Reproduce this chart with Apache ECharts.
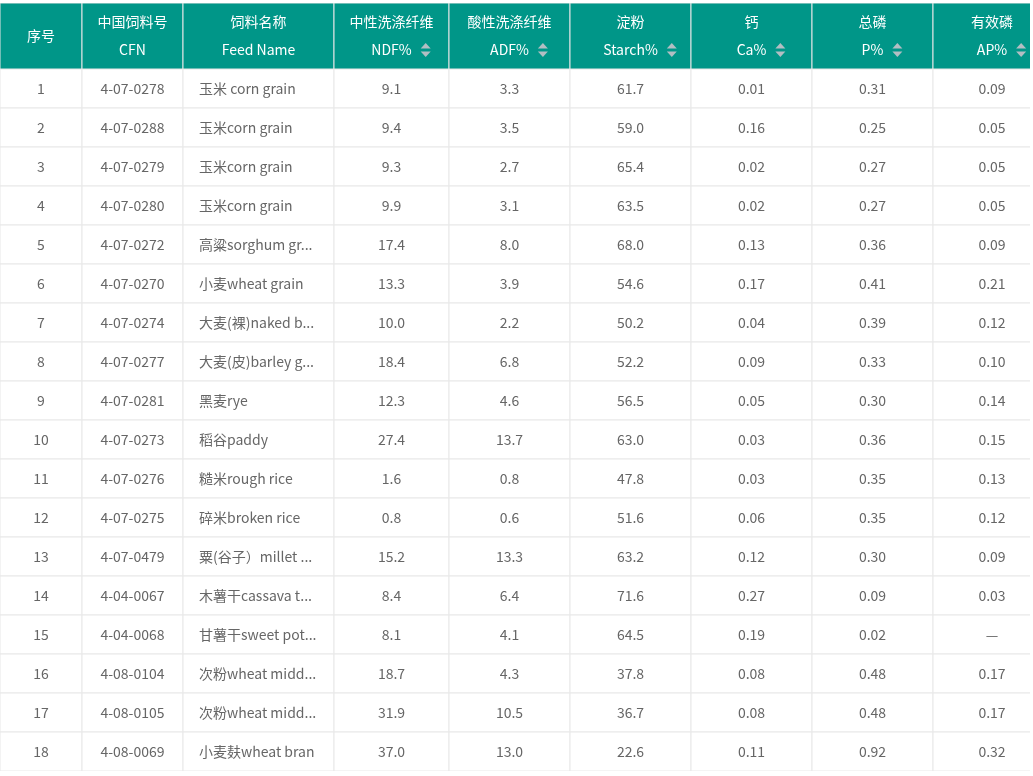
<!DOCTYPE html>
<html>
<head>
<meta charset="utf-8">
<script src="https://cdn.jsdelivr.net/npm/echarts@6/dist/echarts.min.js"></script>
<style>
  html, body { margin: 0; padding: 0; background: #fff; }
  #table { width: 1033px; height: 776px; }
</style>
</head>
<body>
<div id="table"></div>
<script>
// table data
const headersCn = ['序号', '中国饲料号', '饲料名称', '中性洗涤纤维', '酸性洗涤纤维', '淀粉', '钙', '总磷', '有效磷'];
const headersEn = ['', 'CFN', 'Feed Name', 'NDF%', 'ADF%', 'Starch%', 'Ca%', 'P%', 'AP%'];
const sortable = [false, false, false, true, true, true, true, true, true];
const cfn = ['4-07-0278', '4-07-0288', '4-07-0279', '4-07-0280', '4-07-0272', '4-07-0270', '4-07-0274', '4-07-0277', '4-07-0281',
  '4-07-0273', '4-07-0276', '4-07-0275', '4-07-0479', '4-04-0067', '4-04-0068', '4-08-0104', '4-08-0105', '4-08-0069'];
const feedName = ['玉米 corn grain', '玉米corn grain', '玉米corn grain', '玉米corn grain', '高粱sorghum grain', '小麦wheat grain',
  '大麦(裸)naked barley', '大麦(皮)barley grain', '黑麦rye', '稻谷paddy', '糙米rough rice', '碎米broken rice',
  '粟(谷子）millet grain', '木薯干cassava tuber', '甘薯干sweet potato', '次粉wheat middling', '次粉wheat middling', '小麦麸wheat bran'];
const ndf = ['9.1', '9.4', '9.3', '9.9', '17.4', '13.3', '10.0', '18.4', '12.3', '27.4', '1.6', '0.8', '15.2', '8.4', '8.1', '18.7', '31.9', '37.0'];
const adf = ['3.3', '3.5', '2.7', '3.1', '8.0', '3.9', '2.2', '6.8', '4.6', '13.7', '0.8', '0.6', '13.3', '6.4', '4.1', '4.3', '10.5', '13.0'];
const starch = ['61.7', '59.0', '65.4', '63.5', '68.0', '54.6', '50.2', '52.2', '56.5', '63.0', '47.8', '51.6', '63.2', '71.6', '64.5', '37.8', '36.7', '22.6'];
const ca = ['0.01', '0.16', '0.02', '0.02', '0.13', '0.17', '0.04', '0.09', '0.05', '0.03', '0.03', '0.06', '0.12', '0.27', '0.19', '0.08', '0.08', '0.11'];
const p = ['0.31', '0.25', '0.27', '0.27', '0.36', '0.41', '0.39', '0.33', '0.30', '0.36', '0.35', '0.35', '0.30', '0.09', '0.02', '0.48', '0.48', '0.92'];
const ap = ['0.09', '0.05', '0.05', '0.05', '0.09', '0.21', '0.12', '0.10', '0.14', '0.15', '0.13', '0.12', '0.09', '0.03', '—', '0.17', '0.17', '0.32'];

// layout
const colWidths = [82, 101, 151, 115, 121, 121, 121, 121, 118];
const visibleWidth = 1030;
const edges = [0];
colWidths.forEach(w => edges.push(edges[edges.length - 1] + w));
const totalWidth = edges[edges.length - 1];
const FONT = '"Microsoft YaHei", "Noto Sans CJK SC", "Noto Sans", sans-serif';
const BORDER = '#e8e8e8';
const HEAD_BG = '#009688';

const rowNames = cfn.map((_, i) => String(i + 1));
const columns = [rowNames, cfn, feedName, ndf, adf, starch, ca, p, ap];

const measure = document.createElement('canvas').getContext('2d');
measure.font = '14px ' + FONT;

const bodyData = [];
columns.forEach((col, c) => col.forEach((v, r) => bodyData.push([c, r, v])));
const headData = headersCn.map((_, c) => [c, 0]);

function cellRect(api, c) {
  const r = api.value(1);
  const left = api.coord([edges[c], r])[0];
  const right = api.coord([edges[c + 1], r])[0];
  const h = api.size([0, 1])[1];
  const cy = api.coord([0, r])[1];
  return { x: left, y: cy - h / 2, w: right - left, h: h };
}

function renderBody(params, api) {
  const c = api.value(0);
  const b = cellRect(api, c);
  const text = columns[c][api.value(1)];
  const isName = c === 2;
  return {
    type: 'group',
    children: [
      { type: 'rect', shape: { x: b.x, y: b.y, width: b.w, height: b.h },
        style: { fill: '#fff', stroke: BORDER, lineWidth: 1 } },
      { type: 'text',
        style: {
          text: text, x: isName ? b.x + 16 : b.x + b.w / 2, y: b.y + b.h / 2,
          align: isName ? 'left' : 'center', verticalAlign: 'middle',
          fill: '#666', font: '14px ' + FONT,
          width: isName ? b.w - 30 : undefined, overflow: isName ? 'truncate' : undefined, ellipsis: '...'
        } }
    ]
  };
}

function renderHead(params, api) {
  const c = api.value(0);
  const b = cellRect(api, c);
  const cx = b.x + b.w / 2;
  const children = [
    { type: 'rect', shape: { x: b.x, y: b.y, width: b.w, height: b.h },
      style: { fill: HEAD_BG, stroke: '#e6e6e6', lineWidth: 1 } }
  ];
  if (headersEn[c] === '') {
    children.push({ type: 'text', style: { text: headersCn[c], x: cx, y: b.y + b.h / 2, align: 'center',
      verticalAlign: 'middle', fill: '#fff', font: '14px ' + FONT } });
  } else {
    children.push({ type: 'text', style: { text: headersCn[c], x: cx, y: b.y + 19, align: 'center',
      verticalAlign: 'middle', fill: '#fff', font: '14px ' + FONT } });
    children.push({ type: 'text', style: { text: headersEn[c], x: cx, y: b.y + 47, align: 'center',
      verticalAlign: 'middle', fill: '#fff', font: '14px ' + FONT } });
    if (sortable[c]) {
      const ax = cx + measure.measureText(headersEn[c]).width / 2 + 14;
      const ay = b.y + 47;
      children.push({ type: 'polygon', shape: { points: [[ax - 5, ay - 1.5], [ax + 5, ay - 1.5], [ax, ay - 7]] },
        style: { fill: '#b2bec3' } });
      children.push({ type: 'polygon', shape: { points: [[ax - 5, ay + 1.5], [ax + 5, ay + 1.5], [ax, ay + 7]] },
        style: { fill: '#b2bec3' } });
    }
  }
  return { type: 'group', children: children };
}

const chart = echarts.init(document.getElementById('table'));
chart.setOption({
  animation: false,
  backgroundColor: '#fff',
  grid: [
    { left: 0, top: 3, width: visibleWidth, height: 66 },
    { left: 0, top: 69, width: visibleWidth, height: 39 * rowNames.length }
  ],
  xAxis: [
    { gridIndex: 0, type: 'value', min: 0, max: totalWidth * visibleWidth / visibleWidth, show: false },
    { gridIndex: 1, type: 'value', min: 0, max: totalWidth, show: false }
  ].map(a => Object.assign(a, { max: visibleWidth })),
  yAxis: [
    { gridIndex: 0, type: 'category', data: ['head'], show: false },
    { gridIndex: 1, type: 'category', data: rowNames, inverse: true, show: false }
  ],
  series: [
    { type: 'custom', xAxisIndex: 0, yAxisIndex: 0, data: headData, renderItem: renderHead, clip: true, silent: true },
    { type: 'custom', xAxisIndex: 1, yAxisIndex: 1, data: bodyData, renderItem: renderBody, clip: true, silent: true }
  ]
});
</script>
</body>
</html>
